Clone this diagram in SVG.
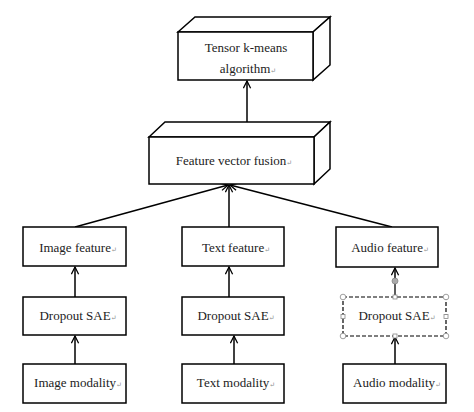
<svg xmlns="http://www.w3.org/2000/svg" width="474" height="412" viewBox="0 0 474 412">
<defs>
<marker id="arr" viewBox="0 0 10 10" refX="9" refY="5" markerWidth="9" markerHeight="9" markerUnits="userSpaceOnUse" orient="auto">
<path d="M1,1 L9,5 L1,9" fill="none" stroke="#000" stroke-width="1.4"/>
</marker>
<style>
.box{fill:#fff;stroke:#000;stroke-width:1.5}
.sel{fill:#fff;stroke:#000;stroke-width:1.2;stroke-dasharray:4 2}
text{font-family:'Liberation Serif','Times New Roman','DejaVu Serif',serif;font-size:13px;fill:#222;text-anchor:middle}
.pm{font-size:7px;fill:#888}
.c{stroke:#000;stroke-width:1.5;fill:none;marker-end:url(#arr)}
.h{fill:#fff;stroke:#888;stroke-width:0.8}
</style>
</defs>
<rect width="474" height="412" fill="#fff"/>

<g id="connectors">
<line class="c" x1="247" y1="122" x2="247" y2="81"/>
<line class="c" x1="75" y1="227" x2="228" y2="185"/>
<line class="c" x1="229" y1="227" x2="229" y2="185"/>
<line class="c" x1="392" y1="227" x2="230" y2="185"/>
<line class="c" x1="75" y1="297" x2="75" y2="267"/>
<line class="c" x1="75" y1="364" x2="75" y2="336"/>
<line class="c" x1="229" y1="297" x2="229" y2="267"/>
<line class="c" x1="234" y1="364" x2="234" y2="336"/>
<line class="c" x1="395" y1="297" x2="395" y2="268"/>
<line class="c" x1="395" y1="364" x2="395" y2="337"/>
</g>

<g id="tensor-kmeans">
<polygon class="box" points="178,32 195,17 330,17 313,32"/>
<polygon class="box" points="313,32 330,17 330,65 313,80"/>
<rect class="box" x="178" y="32" width="135" height="48"/>
<text x="246" y="52" font-family="Liberation Serif, serif">Tensor k-means</text>
<text x="248" y="73" font-family="Liberation Serif, serif">algorithm<tspan class="pm">↵</tspan></text>
</g>

<g id="feature-fusion">
<polygon class="box" points="149,137 165,122 330,122 314,137"/>
<polygon class="box" points="314,137 330,122 330,169 314,184"/>
<rect class="box" x="149" y="137" width="165" height="47"/>
<text x="234" y="165" font-family="Liberation Serif, serif">Feature vector fusion<tspan class="pm">↵</tspan></text>
</g>

<g id="image-feature">
<rect class="box" x="23" y="227" width="103" height="39"/>
<text x="78" y="252" font-family="Liberation Serif, serif">Image feature<tspan class="pm">↵</tspan></text>
</g>
<g id="image-sae">
<rect class="box" x="23" y="297" width="103" height="38"/>
<text x="78" y="320" font-family="Liberation Serif, serif">Dropout SAE<tspan class="pm">↵</tspan></text>
</g>
<g id="image-modality">
<rect class="box" x="23" y="364" width="103" height="39"/>
<text x="78" y="387" font-family="Liberation Serif, serif">Image modality<tspan class="pm">↵</tspan></text>
</g>

<g id="text-feature">
<rect class="box" x="182" y="227" width="102" height="39"/>
<text x="236" y="252" font-family="Liberation Serif, serif">Text feature<tspan class="pm">↵</tspan></text>
</g>
<g id="text-sae">
<rect class="box" x="182" y="297" width="102" height="38"/>
<text x="236" y="320" font-family="Liberation Serif, serif">Dropout SAE<tspan class="pm">↵</tspan></text>
</g>
<g id="text-modality">
<rect class="box" x="182" y="364" width="102" height="39"/>
<text x="236" y="387" font-family="Liberation Serif, serif">Text modality<tspan class="pm">↵</tspan></text>
</g>

<g id="audio-feature">
<rect class="box" x="336" y="227" width="102" height="40"/>
<text x="390" y="252" font-family="Liberation Serif, serif">Audio feature<tspan class="pm">↵</tspan></text>
</g>
<g id="audio-sae">
<rect class="sel" x="343" y="297" width="103" height="39"/>
<text x="397" y="320" font-family="Liberation Serif, serif">Dropout SAE<tspan class="pm">↵</tspan></text>
<line x1="395" y1="283" x2="395" y2="297" stroke="#888" stroke-width="0.8"/>
<circle cx="395" cy="281" r="3" fill="#aaa" stroke="#888" stroke-width="0.8"/>
<circle class="h" cx="343" cy="297" r="2.8"/>
<circle class="h" cx="446" cy="297" r="2.8"/>
<circle class="h" cx="343" cy="336" r="2.8"/>
<circle class="h" cx="446" cy="336" r="2.8"/>
<rect class="h" x="393" y="295" width="4" height="4"/>
<rect class="h" x="393" y="334" width="4" height="4"/>
<rect class="h" x="341" y="314.5" width="4" height="4"/>
<rect class="h" x="444" y="314.5" width="4" height="4"/>
</g>
<g id="audio-modality">
<rect class="box" x="343" y="364" width="103" height="39"/>
<text x="397" y="387" font-family="Liberation Serif, serif">Audio modality<tspan class="pm">↵</tspan></text>
</g>
</svg>
